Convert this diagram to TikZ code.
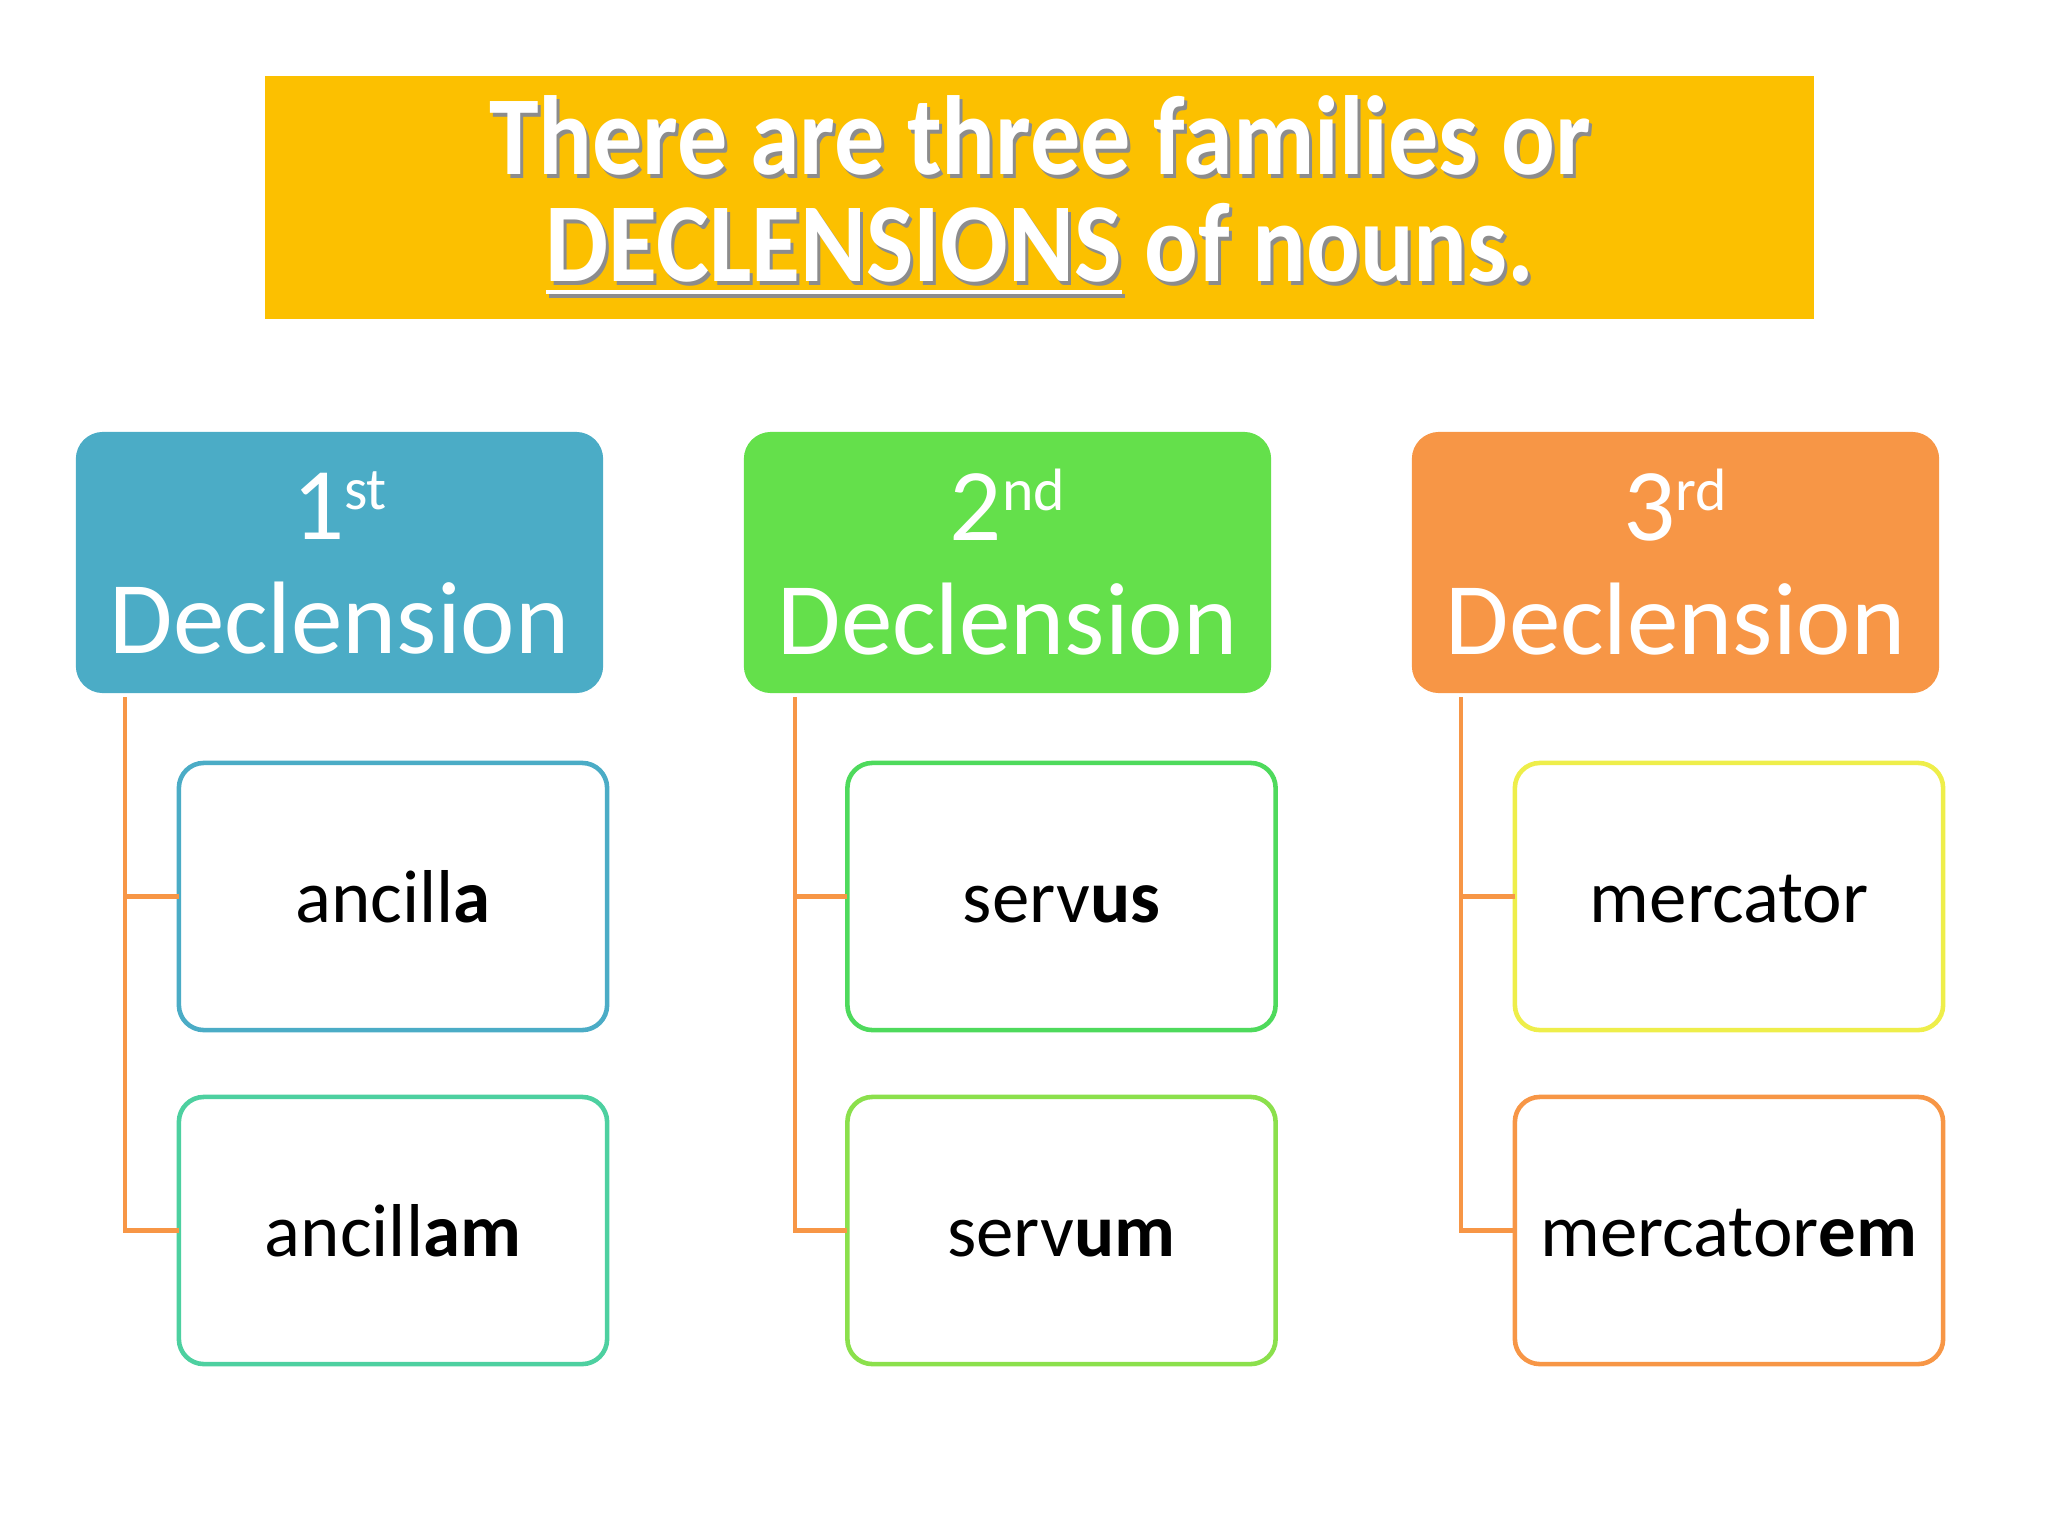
\documentclass[tikz,border=0pt]{standalone}
\usepackage{fontspec}
\setmainfont{Carlito}
\newfontfamily\titlefont[FakeStretch=0.89]{Carlito}
\usetikzlibrary{calc}
\definecolor{titleyellow}{HTML}{FCC000}
\definecolor{hblue}{HTML}{4BACC6}
\definecolor{hgreen}{HTML}{64E04B}
\definecolor{horange}{HTML}{F79646}
\definecolor{bteal}{HTML}{4DD0A0}
\definecolor{bgreen}{HTML}{4EDA5C}
\definecolor{blime}{HTML}{8BE04C}
\definecolor{byellow}{HTML}{EEEE4A}
\newsavebox{\ulbx}
\newcommand{\undl}[1]{\sbox{\ulbx}{#1}\rlap{\rule[-1.25mm]{\wd\ulbx}{0.45mm}}\usebox{\ulbx}}
\newcommand{\ord}[1]{\raisebox{3mm}{\fontsize{17pt}{17pt}\selectfont #1}}
\newcommand{\titletxt}{There are three families or\\ \undl{DECLENSIONS} of nouns.}

\begin{document}
\begin{tikzpicture}[x=0.01cm, y=-0.01cm, thick]
      \tikzset{
        hdr/.style={rounded corners=2.7mm, inner sep=0, outer sep=0, minimum width=5.27cm,
          minimum height=2.61cm, text=white, align=center,
          font=\fontsize{29.3pt}{32.4pt}\selectfont},
        word/.style={draw, line width=1.3pt, rounded corners=2.5mm, fill=white, inner sep=0,
          outer sep=0, minimum width=4.28cm, minimum height=2.67cm, text height=14.5pt,
          text depth=0pt, font=\fontsize{21.3pt}{21.3pt}\selectfont},
        branch/.style={draw=horange, line width=1.15pt}
      }
      \useasboundingbox (0,0) rectangle (2048,1536);

      \node [fill=titleyellow, inner sep=0, minimum width=15.49cm, minimum height=2.43cm,
        name=title] at (1039.5,197.5) {};
      \node [text=black!45, align=center, font=\titlefont\bfseries\fontsize{32pt}{30.4pt}\selectfont,
        name=titleshadow] at (1043,199) {\titletxt};
      \node [text=white, align=center, font=\titlefont\bfseries\fontsize{32pt}{30.4pt}\selectfont,
        name=titletext] at (1040,195) {\titletxt};

      \node [hdr, fill=hblue, name=h1] at (339.5,562.5) {1\ord{st}\\Declension};
      \node [hdr, fill=hgreen, name=h2] at (1007.5,562.5) {2\ord{nd}\\Declension};
      \node [hdr, fill=horange, name=h3] at (1675.5,562.5) {3\ord{rd}\\Declension};

      \node [word, draw=hblue, name=a1] at (393,896.5) {ancill\textbf{a}};
      \node [word, draw=bteal, name=a2] at (393,1230.5) {ancill\textbf{am}};
      \node [word, draw=bgreen, name=s1] at (1061.5,896.5) {serv\textbf{us}};
      \node [word, draw=blime, name=s2] at (1061.5,1230.5) {serv\textbf{um}};
      \node [word, draw=byellow, name=m1] at (1729,896.5) {mercator};
      \node [word, draw=horange, name=m2] at (1729,1230.5) {mercator\textbf{em}};

      \draw [branch] ($(h1.south west)+(49,4)$) |- (a1.west);
      \draw [branch] ($(h1.south west)+(49,4)$) |- (a2.west);
      \draw [branch] ($(h2.south west)+(51,4)$) |- (s1.west);
      \draw [branch] ($(h2.south west)+(51,4)$) |- (s2.west);
      \draw [branch] ($(h3.south west)+(49,4)$) |- (m1.west);
      \draw [branch] ($(h3.south west)+(49,4)$) |- (m2.west);
    \end{tikzpicture}
\end{document}
